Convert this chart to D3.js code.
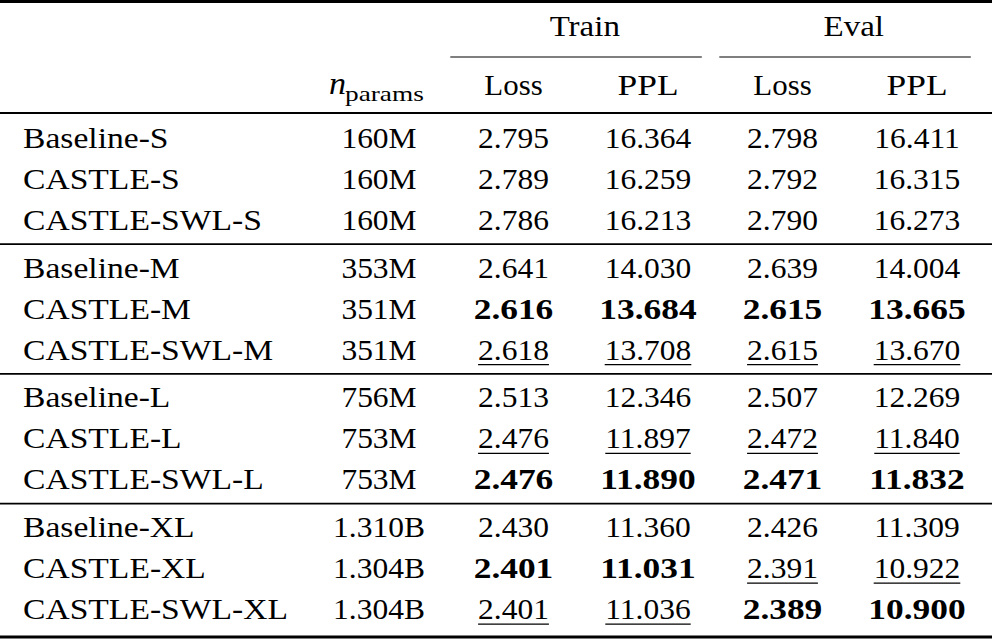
<!DOCTYPE html>
<html>
<head>
<meta charset="utf-8">
<script src="https://cdn.jsdelivr.net/npm/d3@7"></script>
<style>
  html, body { margin: 0; padding: 0; background: #fff; }
  svg { display: block; }
</style>
</head>
<body>
<div id="table"></div>
<script>

// table contents
var models = ["Baseline-S", "CASTLE-S", "CASTLE-SWL-S",
              "Baseline-M", "CASTLE-M", "CASTLE-SWL-M",
              "Baseline-L", "CASTLE-L", "CASTLE-SWL-L",
              "Baseline-XL", "CASTLE-XL", "CASTLE-SWL-XL"];
var nParams = ["160M", "160M", "160M", "353M", "351M", "351M",
               "756M", "753M", "753M", "1.310B", "1.304B", "1.304B"];
var trainLoss = [2.795, 2.789, 2.786, 2.641, 2.616, 2.618, 2.513, 2.476, 2.476, 2.430, 2.401, 2.401];
var trainPPL  = [16.364, 16.259, 16.213, 14.030, 13.684, 13.708, 12.346, 11.897, 11.890, 11.360, 11.031, 11.036];
var evalLoss  = [2.798, 2.792, 2.790, 2.639, 2.615, 2.615, 2.507, 2.472, 2.471, 2.426, 2.391, 2.389];
var evalPPL   = [16.411, 16.315, 16.273, 14.004, 13.665, 13.670, 12.269, 11.840, 11.832, 11.309, 10.922, 10.900];
// b = best (bold), u = second (underlined)
var trainLossMark = ["", "", "", "", "b", "u", "", "u", "b", "", "b", "u"];
var trainPPLMark  = ["", "", "", "", "b", "u", "", "u", "b", "", "b", "u"];
var evalLossMark  = ["", "", "", "", "b", "u", "", "u", "b", "", "u", "b"];
var evalPPLMark   = ["", "", "", "", "b", "u", "", "u", "b", "", "u", "b"];
var groupNames = ["Train", "Eval"];
var subNames = ["Loss", "PPL", "Loss", "PPL"];

var width = 992, height = 642;
var font = "'Liberation Serif', 'Times New Roman', serif";
var fontSize = 30;

var svg = d3.select("#table").append("svg")
    .attr("width", width)
    .attr("height", height)
    .attr("viewBox", "0 0 " + width + " " + height);

// column positions
var cols = ["params", "tl", "tp", "el", "ep"];
var x = d3.scalePoint()
    .domain(cols)
    .range([379, 917]);
var step = x.step();

// row positions: 4 groups of 3 rows
var yGroup = d3.scaleLinear().domain([0, 3]).range([148, 148 + 3 * 129.7]);
var yRow = d3.scaleLinear().domain([0, 2]).range([0, 82]);
function rowY(i) { return yGroup(Math.floor(i / 3)) + yRow(i % 3); }

var fmt = d3.format(".3f");

function addText(txt, cx, cy, opts) {
  opts = opts || {};
  var t = svg.append("text")
      .attr("transform", "translate(" + cx + "," + cy + ") scale(" + (opts.sx || 1) + ",1)")
      .attr("text-anchor", opts.anchor || "middle")
      .attr("font-family", font)
      .attr("font-size", (opts.size || fontSize) + "px")
      .attr("font-weight", opts.bold ? "bold" : "normal")
      .attr("font-style", opts.italic ? "italic" : "normal")
      .attr("fill", "#000")
      .text(txt);
  return t;
}

function hrule(x1, x2, y, w) {
  svg.append("line")
      .attr("x1", x1).attr("x2", x2)
      .attr("y1", y).attr("y2", y)
      .attr("stroke", "#000")
      .attr("stroke-width", w);
}

// rules
hrule(0, width, 1.5, 3);
hrule(x("tl") - 0.47 * step, x("tp") + 0.4 * step, 57, 1.2);
hrule(x("el") - 0.47 * step, x("ep") + 0.4 * step, 57, 1.2);
hrule(0, width, 113, 1.8);
[1, 2, 3].forEach(function(g) {
  hrule(0, width, yGroup(g) - 33.5, 1.8);
});
hrule(0, width, 637, 3);

// header
addText(groupNames[0], (x("tl") + x("tp")) / 2 + 4, 36, {sx: 1.1});
addText(groupNames[1], (x("el") + x("ep")) / 2 + 4, 36, {sx: 1.1});
["tl", "tp", "el", "ep"].forEach(function(c, i) {
  addText(subNames[i], x(c), 95, {sx: subNames[i] == "PPL" ? 1.18 : 1.03});
});
// n_params
addText("n", x("params") - 50, 94, {italic: true, anchor: "start", size: 31, sx: 1.1});
addText("params", x("params") - 34, 101, {size: 21, sx: 1.3, anchor: "start"});

// body
models.forEach(function(m, i) {
  addText(m, 23, rowY(i), {anchor: "start", sx: 1.12});
  addText(nParams[i], x("params"), rowY(i), {sx: 1.05});
});

var cells = [
  {col: "tl", vals: trainLoss, marks: trainLossMark},
  {col: "tp", vals: trainPPL, marks: trainPPLMark},
  {col: "el", vals: evalLoss, marks: evalLossMark},
  {col: "ep", vals: evalPPL, marks: evalPPLMark}
];

cells.forEach(function(c) {
  c.vals.forEach(function(v, i) {
    var bold = c.marks[i] == "b";
    var sx = bold ? 1.18 : 1.05;
    var t = addText(fmt(v), x(c.col), rowY(i), {bold: bold, sx: sx});
    if (c.marks[i] == "u") {
      var w = t.node().getComputedTextLength() * sx;
      hrule(x(c.col) - w / 2, x(c.col) + w / 2, rowY(i) + 5, 1.2);
    }
  });
});

</script>
</body>
</html>
